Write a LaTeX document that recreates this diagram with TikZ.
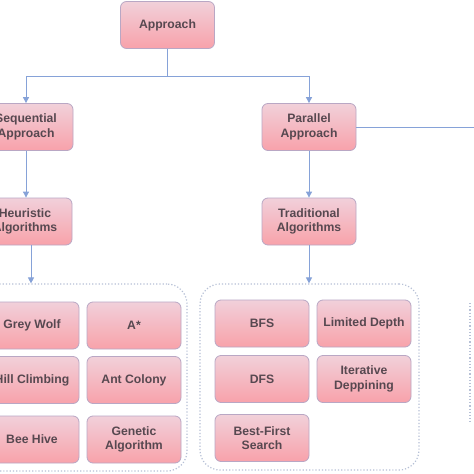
\documentclass[tikz,border=0pt]{standalone}
\usepackage{fontspec}
\setmainfont{Liberation Sans}
\usetikzlibrary{arrows.meta}
\definecolor{boxtop}{HTML}{F1D0DA}
\definecolor{boxbot}{HTML}{F8A2AA}
\definecolor{boxedge}{HTML}{B9A7C4}
\definecolor{txt}{HTML}{574850}
\definecolor{link}{HTML}{86A2D8}
\definecolor{cont}{HTML}{B6C0D6}
\tikzset{
  algbox/.style={draw=boxedge, line width=0.8pt, rounded corners=6pt,
    top color=boxtop, bottom color=boxbot, minimum width=94pt, minimum height=47pt,
    inner sep=2pt, align=center, text=txt,
    font=\fontsize{12.2}{14.5}\selectfont\bfseries},
  group/.style={draw=cont, dotted, line width=1.2pt, rounded corners=20pt, inner sep=0pt},
  link/.style={draw=link, line width=0.9pt},
  arr/.style={link, -{Triangle[width=6pt,length=6pt]}}
}
\begin{document}
\begin{tikzpicture}[x=1pt,y=-1pt]
\useasboundingbox (0,0) rectangle (474,474);
\clip (0,0) rectangle (474,474);
\fill[white] (0,0) rectangle (474,474);
% containers
\node[group, minimum width=217pt, minimum height=187pt] (lc) at (78.5,377.5) {};
\node[group, minimum width=219pt, minimum height=186pt] (rc) at (309.5,377) {};
\draw[cont, dotted, line width=1.2pt] (470,303) -- (470,422);
% top level
\node[algbox] (app) at (167.5,25) {Approach};
\node[algbox] (seq) at (26,127) {Sequential\\Approach};
\node[algbox] (par) at (309,127) {Parallel\\Approach};
\node[algbox] (heu) at (25,221.5) {Heuristic\\Algorithms};
\node[algbox] (trad) at (309,221.5) {Traditional\\Algorithms};
% left leaves
\node[algbox] (gw) at (32,325.5) {Grey Wolf};
\node[algbox] (astar) at (134,325.5) {A*};
\node[algbox] (hc) at (32,380) {Hill Climbing};
\node[algbox] (ant) at (134,380) {Ant Colony};
\node[algbox] (bee) at (32,439.5) {Bee Hive};
\node[algbox] (gen) at (134,439.5) {Genetic\\Algorithm};
% right leaves
\node[algbox] (bfs) at (262,323.5) {BFS};
\node[algbox] (ld) at (364,323.5) {Limited Depth};
\node[algbox] (dfs) at (262,379) {DFS};
\node[algbox] (id) at (364,379) {Iterative\\Deppining};
\node[algbox] (bestfs) at (262,438) {Best-First\\Search};
% connectors
\coordinate (j) at (167.5,76);
\coordinate (pend) at (480,127);
\draw[link] (app.south) -- (j);
\draw[arr] (j) -| (seq.north);
\draw[arr] (j) -| (par.north);
\draw[link] (par.east) -- (pend);
\draw[arr] (seq.south) -- (heu.north -| seq.south);
\draw[arr] (par.south) -- (trad.north);
\draw[arr] (trad.south) -- (trad.south |- rc.north);
\draw[arr] ([xshift=6pt]heu.south) -- ([xshift=6pt]heu.south |- lc.north);
\end{tikzpicture}
\end{document}
